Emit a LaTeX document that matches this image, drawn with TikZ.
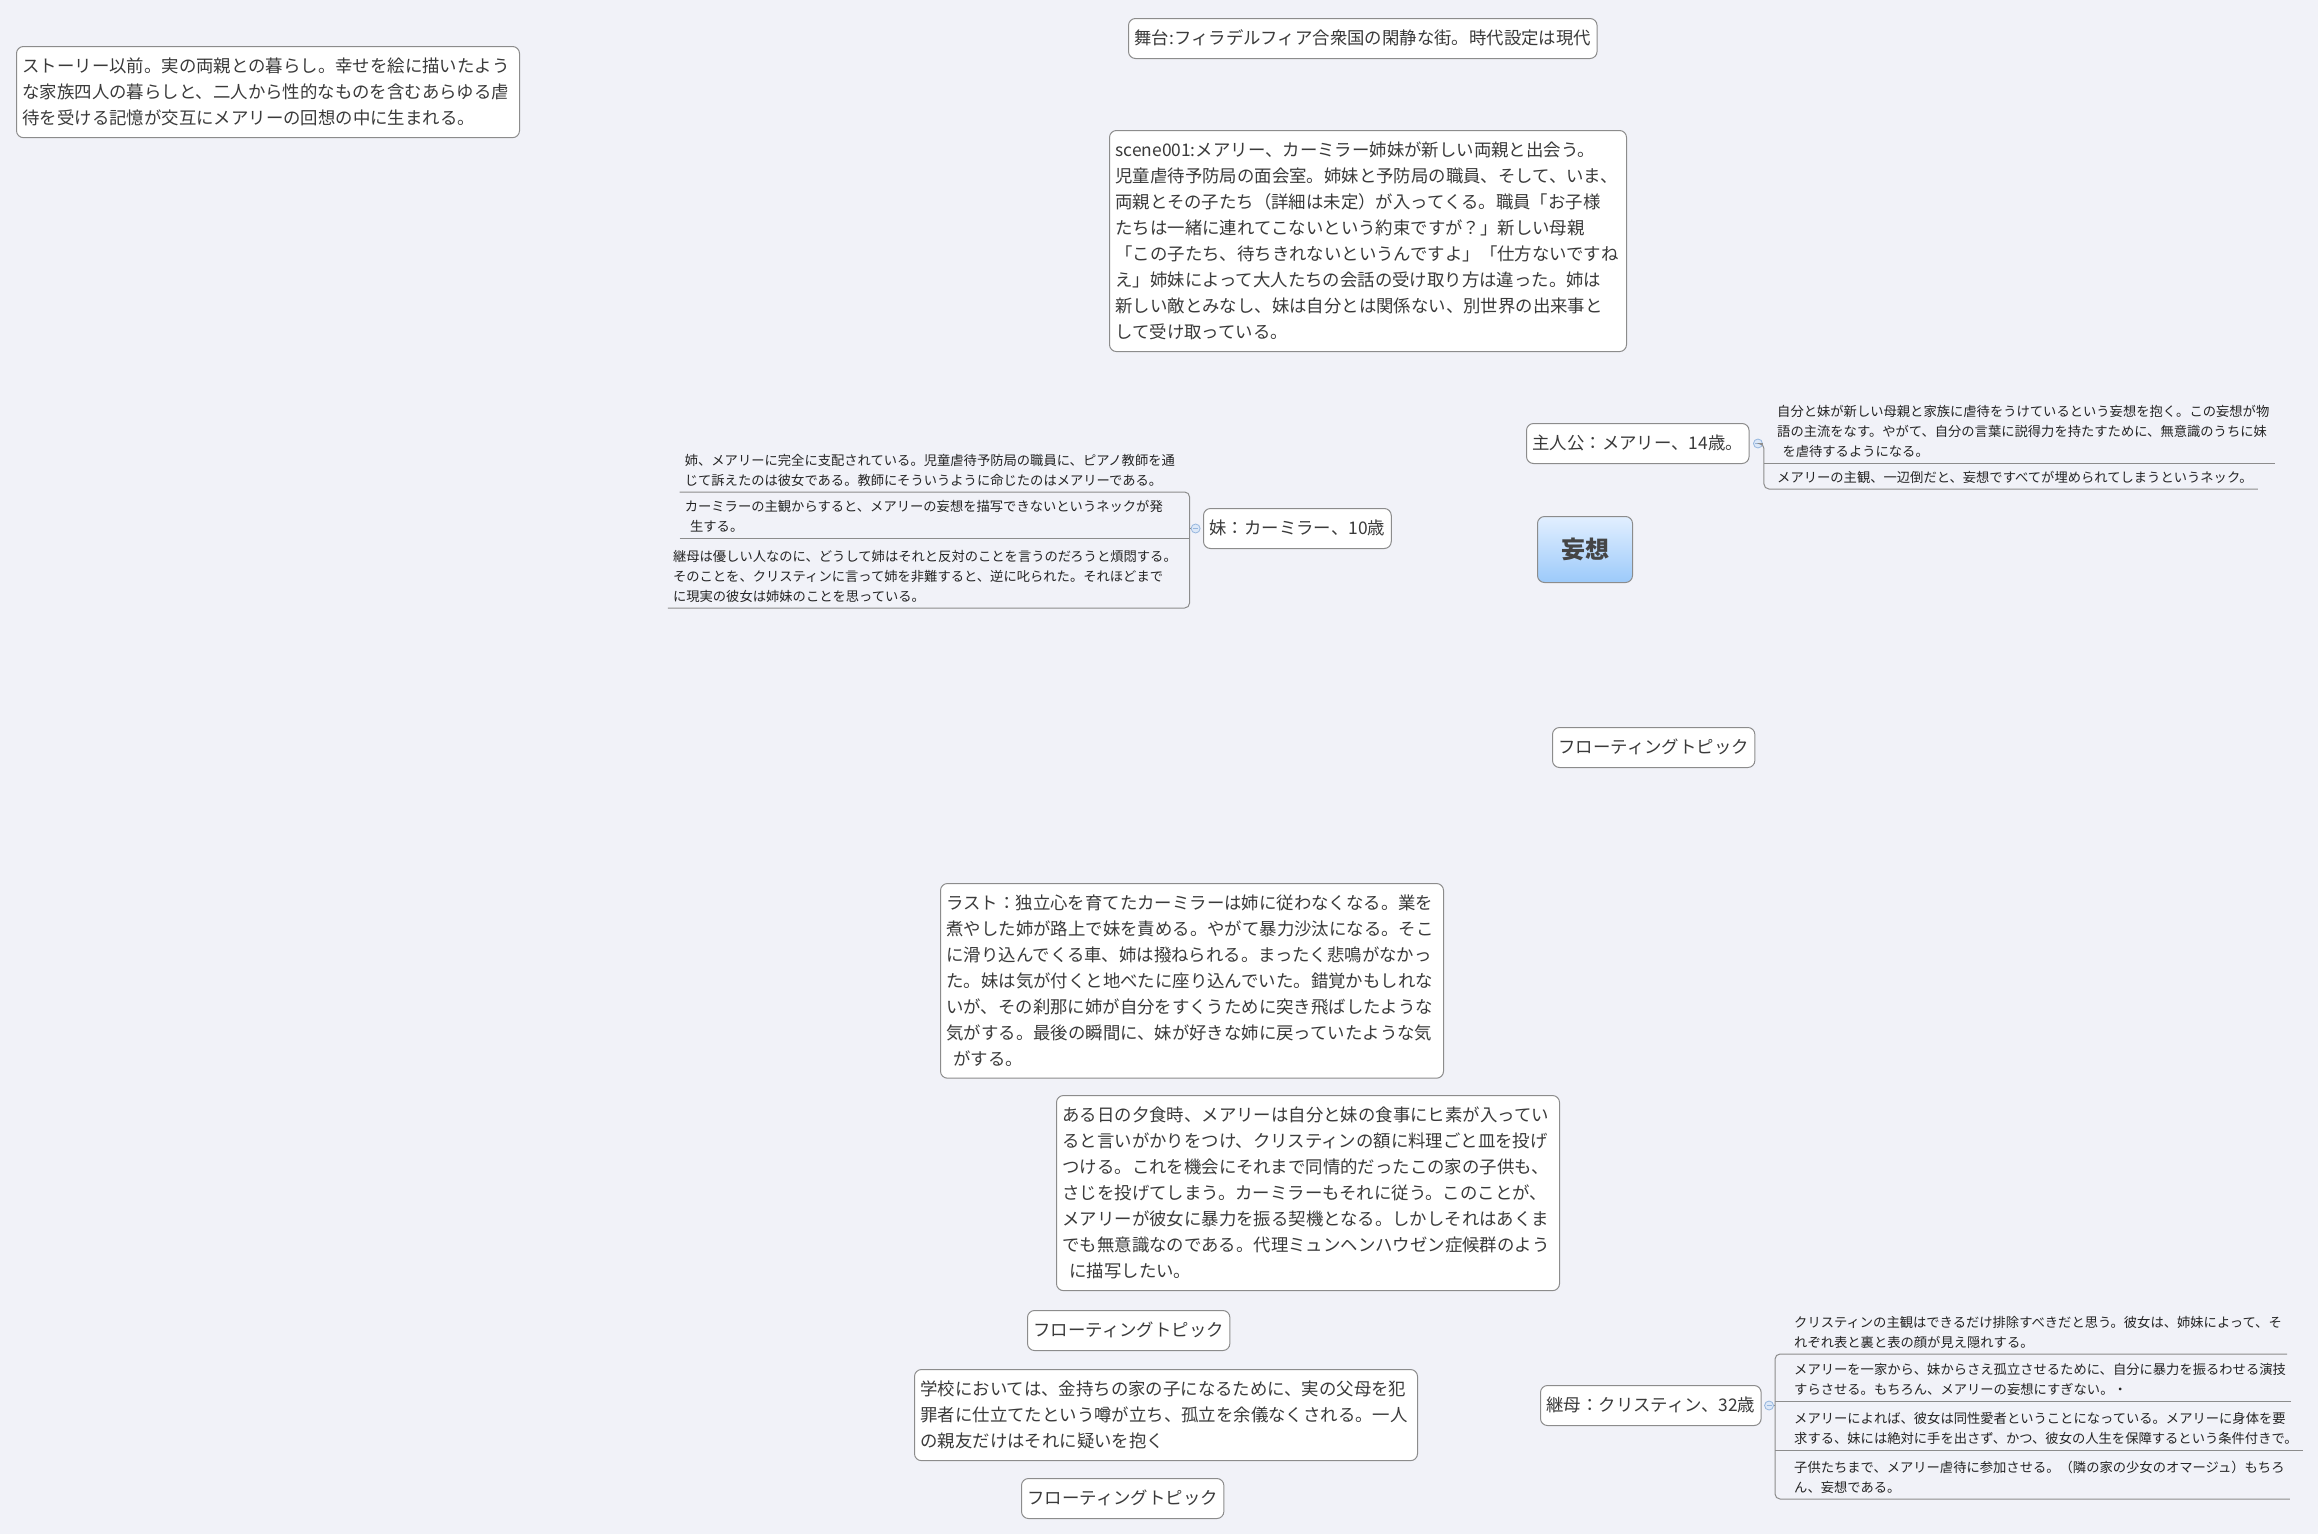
\documentclass[tikz,border=0pt]{standalone}
\usepackage{fontspec}
\setmainfont{Noto Sans CJK JP}
\usetikzlibrary{positioning}

\definecolor{paper}{HTML}{F1F2F8}
\definecolor{edgegray}{HTML}{8C8C8C}
\definecolor{inkgray}{HTML}{3A3A3A}
\definecolor{subink}{HTML}{242424}
\definecolor{knobfill}{HTML}{DCE8F8}
\definecolor{knobedge}{HTML}{96B6DE}
\definecolor{centtop}{HTML}{E2EFFF}
\definecolor{centbot}{HTML}{9CCAFA}
\definecolor{centink}{HTML}{454545}

\tikzset{
  topic/.style={anchor=north west, draw=edgegray, fill=white, line width=1pt,
    rounded corners=7pt, text=inkgray, align=left, inner xsep=6pt, inner ysep=11.5pt,
    font=\fontsize{17.4}{26}\selectfont},
  oneline/.style={text height=14pt, text depth=3pt},
  central/.style={anchor=north west, draw=edgegray, line width=1pt, rounded corners=7pt,
    top color=centtop, bottom color=centbot, text=centink, align=center,
    minimum width=95pt, minimum height=66pt, font=\fontsize{24}{28}\selectfont\bfseries},
  sub/.style={align=left, inner xsep=5pt, inner ysep=5pt, text=subink,
    font=\fontsize{13.3}{20}\selectfont},
  branch/.style={draw=edgegray, line width=1pt, rounded corners=5pt},
  knob/.style={circle, draw=knobedge, fill=knobfill, line width=0.8pt, minimum size=9pt,
    inner sep=0pt, path picture={\draw[knobedge, line width=0.8pt]
      ([xshift=-2.5pt]path picture bounding box.center) --
      ([xshift=2.5pt]path picture bounding box.center);}}
}

\begin{document}
\begin{tikzpicture}[x=1pt,y=-1pt]
  \useasboundingbox[fill=paper] (0,0) rectangle (2318,1534);

  \node[topic, text width=491pt] (before) at (16,46)
    {ストーリー以前。実の両親との暮らし。幸せを絵に描いたよう\\
     な家族四人の暮らしと、二人から性的なものを含むあらゆる虐\\
     待を受ける記憶が交互にメアリーの回想の中に生まれる。};
  \node[topic, oneline] (stage) at (1128,18)
    {舞台:フィラデルフィア合衆国の閑静な街。時代設定は現代};
  \node[topic, text width=505pt] (scene1) at (1109,130)
    {scene001:メアリー、カーミラー姉妹が新しい両親と出会う。\\
     児童虐待予防局の面会室。姉妹と予防局の職員、そして、いま、\\
     両親とその子たち（詳細は未定）が入ってくる。職員「お子様\\
     たちは一緒に連れてこないという約束ですが？」新しい母親\\
     「この子たち、待ちきれないというんですよ」「仕方ないですね\\
     え」姉妹によって大人たちの会話の受け取り方は違った。姉は\\
     新しい敵とみなし、妹は自分とは関係ない、別世界の出来事と\\
     して受け取っている。};
  \node[central] (idea) at (1537,516) {妄想};
  \node[topic, oneline] (float1) at (1552,727) {フローティングトピック};
  \node[topic, text width=491pt] (last) at (940,883)
    {ラスト：独立心を育てたカーミラーは姉に従わなくなる。業を\\
     煮やした姉が路上で妹を責める。やがて暴力沙汰になる。そこ\\
     に滑り込んでくる車、姉は撥ねられる。まったく悲鳴がなかっ\\
     た。妹は気が付くと地べたに座り込んでいた。錯覚かもしれな\\
     いが、その刹那に姉が自分をすくうために突き飛ばしたような\\
     気がする。最後の瞬間に、妹が好きな姉に戻っていたような気\\
     \hspace*{0.4em}がする。};
  \node[topic, text width=491pt] (dinner) at (1056,1095)
    {ある日の夕食時、メアリーは自分と妹の食事にヒ素が入ってい\\
     ると言いがかりをつけ、クリスティンの額に料理ごと皿を投げ\\
     つける。これを機会にそれまで同情的だったこの家の子供も、\\
     さじを投げてしまう。カーミラーもそれに従う。このことが、\\
     メアリーが彼女に暴力を振る契機となる。しかしそれはあくま\\
     でも無意識なのである。代理ミュンヘンハウゼン症候群のよう\\
     \hspace*{0.4em}に描写したい。};
  \node[topic, oneline] (float2) at (1027,1310) {フローティングトピック};
  \node[topic, text width=491pt] (school) at (914,1369)
    {学校においては、金持ちの家の子になるために、実の父母を犯\\
     罪者に仕立てたという噂が立ち、孤立を余儀なくされる。一人\\
     の親友だけはそれに疑いを抱く};
  \node[topic, oneline] (float3) at (1021,1478) {フローティングトピック};

  % 主人公
  \node[topic, oneline] (mary) at (1526,423) {主人公：メアリー、14歳。};
  \node[knob, right=3.5pt of mary] (maryknob) {};
  \coordinate (maryspine) at ([xshift=6pt]maryknob.center);
  \node[sub, anchor=south west] (mary1) at (1772,463)
    {自分と妹が新しい母親と家族に虐待をうけているという妄想を抱く。この妄想が物\\
     語の主流をなす。やがて、自分の言葉に説得力を持たすために、無意識のうちに妹\\
     \hspace*{0.4em}を虐待するようになる。};
  \node[sub, anchor=south west] (mary2) at (1772,489)
    {メアリーの主観、一辺倒だと、妄想ですべてが埋められてしまうというネック。};
  \draw[branch] (maryknob.east) -- (maryspine) |- (mary2.south east);
  \draw[branch] (mary1.south east) -- (mary1.south east -| maryspine);

  % 妹
  \node[topic, oneline] (karm) at (1203,508) {妹：カーミラー、10歳};
  \node[knob, left=2.5pt of karm] (karmknob) {};
  \coordinate (karmspine) at ([xshift=-6pt]karmknob.center);
  \node[sub, anchor=south east, text width=492pt] (karm1) at (1182,492)
    {姉、メアリーに完全に支配されている。児童虐待予防局の職員に、ピアノ教師を通\\
     じて訴えたのは彼女である。教師にそういうように命じたのはメアリーである。};
  \node[sub, anchor=south east, text width=492pt] (karm2) at (1182,538)
    {カーミラーの主観からすると、メアリーの妄想を描写できないというネックが発\\
     \hspace*{0.4em}生する。};
  \node[sub, anchor=south east] (karm3) at (1182,608)
    {継母は優しい人なのに、どうして姉はそれと反対のことを言うのだろうと煩悶する。\\
     そのことを、クリスティンに言って姉を非難すると、逆に叱られた。それほどまで\\
     に現実の彼女は姉妹のことを思っている。};
  \draw[branch] (karm1.south west) -| (karmspine) |- (karm3.south west);
  \draw[branch] (karmknob.west) -- (karmspine);
  \draw[branch] (karm2.south west) -- (karm2.south west -| karmspine);

  % 継母
  \node[topic, oneline] (chris) at (1540,1385) {継母：クリスティン、32歳};
  \node[knob, right=2.5pt of chris] (chrisknob) {};
  \coordinate (chrisspine) at ([xshift=6pt]chrisknob.center);
  \node[sub, anchor=south west] (chris1) at (1789,1354)
    {クリスティンの主観はできるだけ排除すべきだと思う。彼女は、姉妹によって、そ\\
     れぞれ表と裏と表の顔が見え隠れする。};
  \node[sub, anchor=south west] (chris2) at (1789,1401)
    {メアリーを一家から、妹からさえ孤立させるために、自分に暴力を振るわせる演技\\
     すらさせる。もちろん、メアリーの妄想にすぎない。・};
  \node[sub, anchor=south west] (chris3) at (1789,1450)
    {メアリーによれば、彼女は同性愛者ということになっている。メアリーに身体を要\\
     求する、妹には絶対に手を出さず、かつ、彼女の人生を保障するという条件付きで。};
  \node[sub, anchor=south west] (chris4) at (1789,1499)
    {子供たちまで、メアリー虐待に参加させる。（隣の家の少女のオマージュ）もちろ\\
     ん、妄想である。};
  \draw[branch] (chris1.south east) -| (chrisspine) |- (chris4.south east);
  \draw[branch] (chrisknob.east) -- (chrisspine);
  \foreach \i in {2,3}
    \draw[branch] (chris\i.south east) -- (chris\i.south east -| chrisspine);
\end{tikzpicture}
\end{document}
